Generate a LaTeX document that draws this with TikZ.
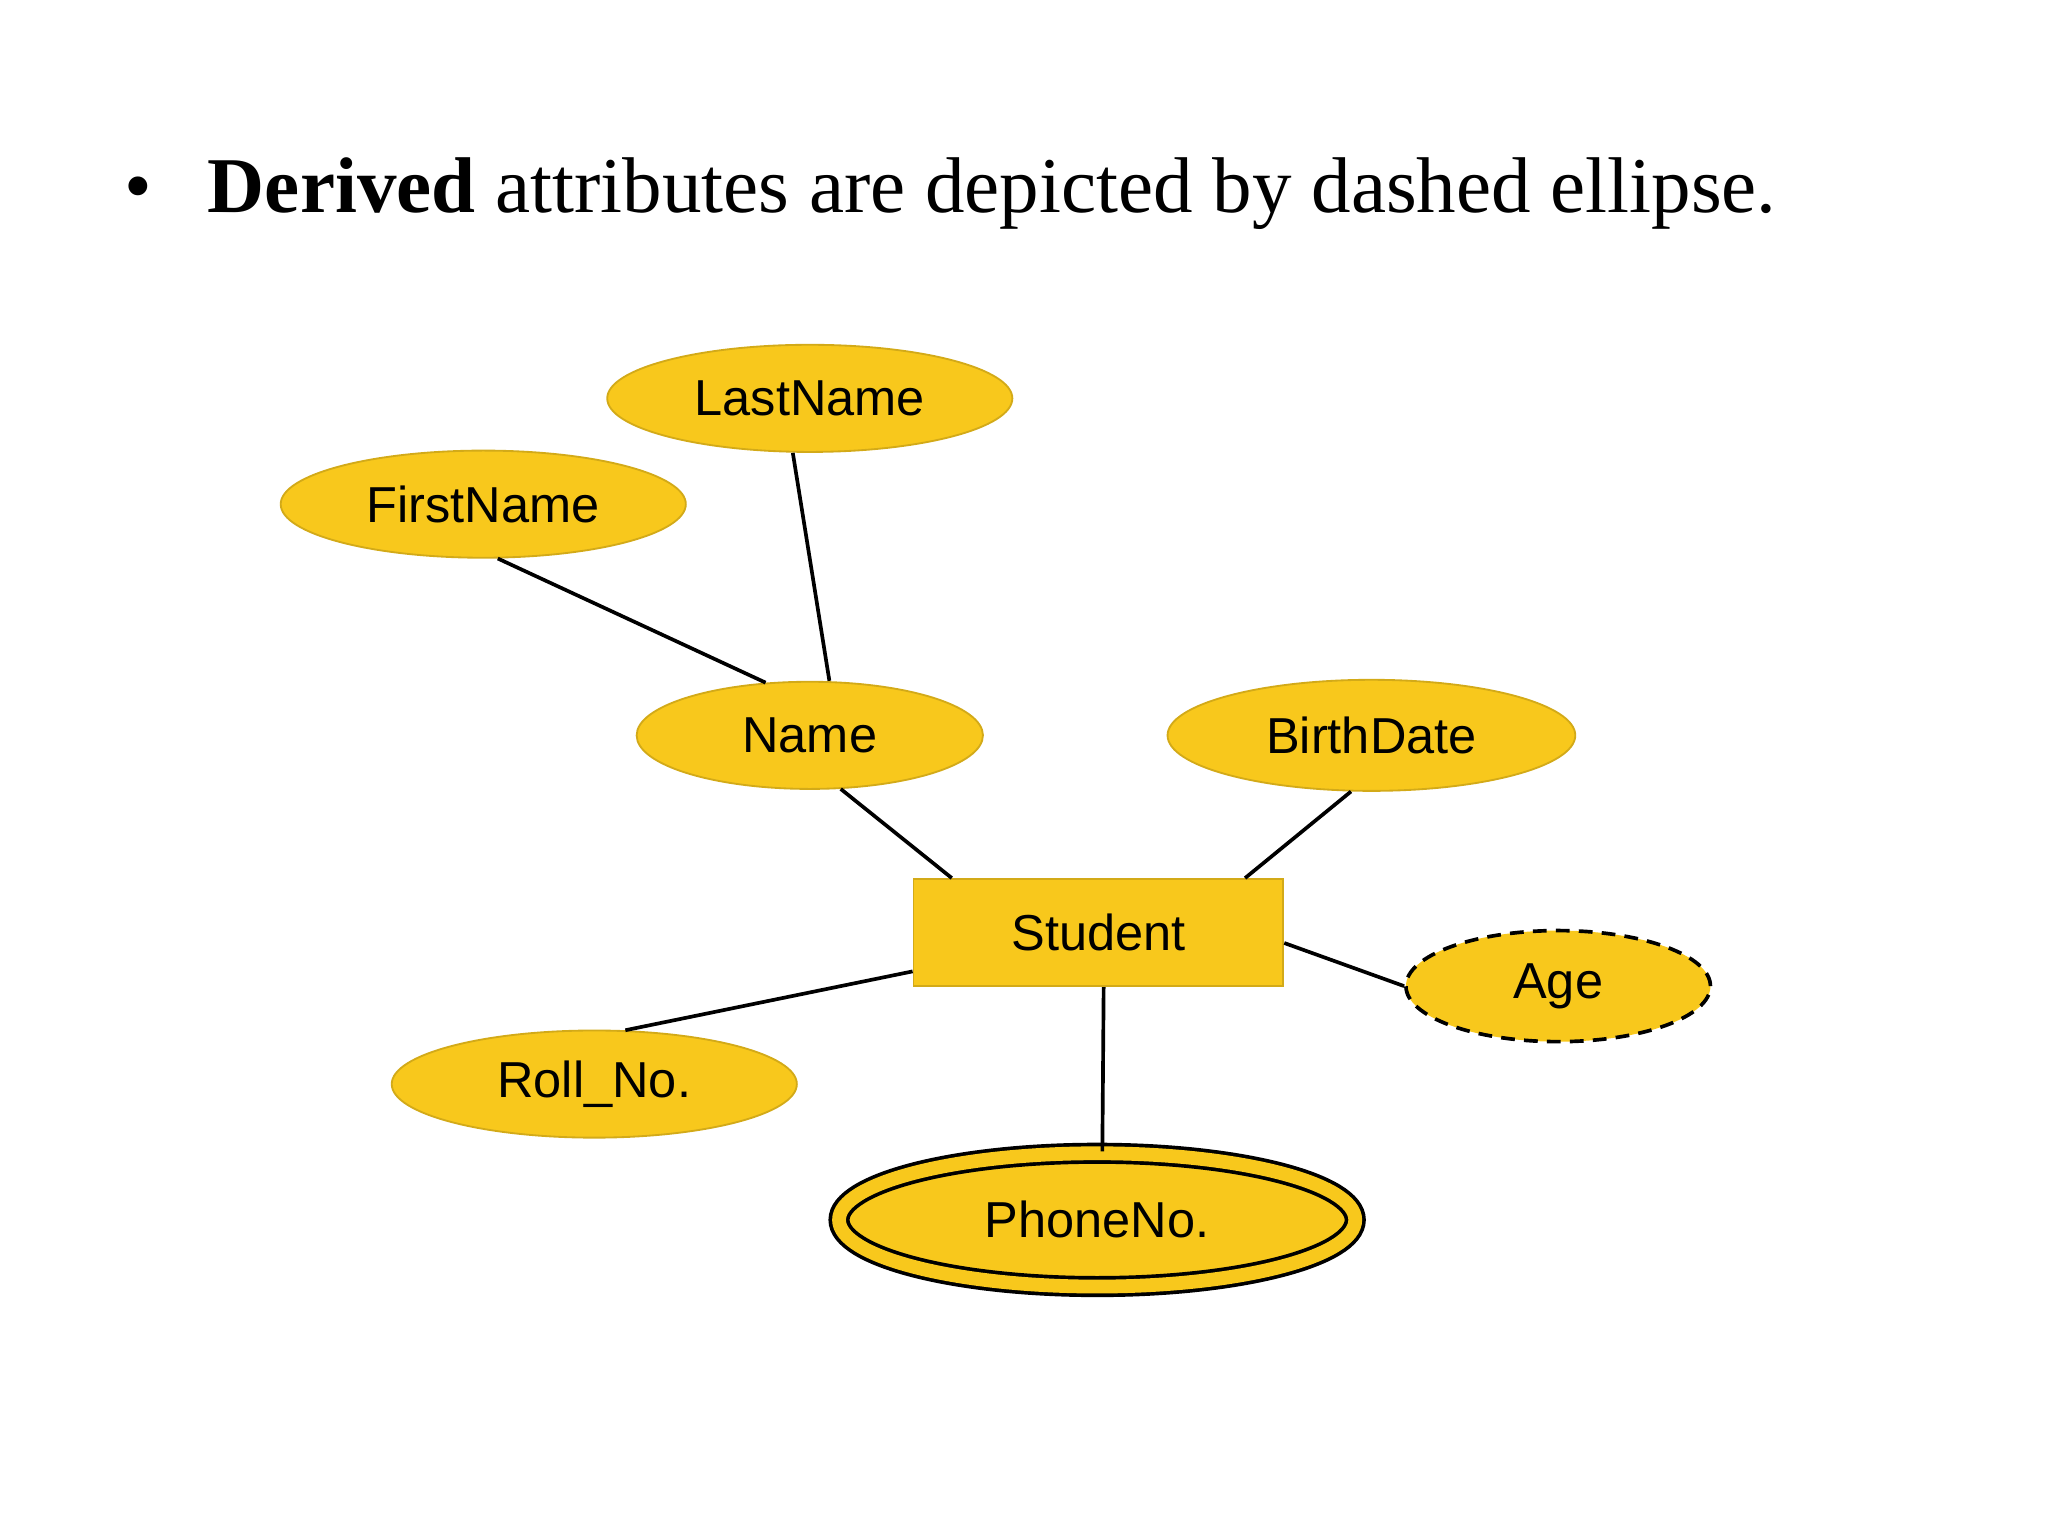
\documentclass[tikz,border=0pt]{standalone}
\usepackage{fontspec}
\setmainfont{Liberation Serif}
\newfontfamily\erfont{Liberation Sans}
\usetikzlibrary{positioning, shapes.geometric, calc}
\definecolor{attrfill}{HTML}{F8C81C}

\begin{document}
\begin{tikzpicture}[
		x=0.01cm, y=-0.01cm,
		% Styles
		attr/.style={ellipse, draw=attrfill!85!black, fill=attrfill, inner sep=0pt, font=\erfont\fontsize{11}{12}\selectfont},
		derived/.style={attr, draw=black, thick, dash pattern=on 3pt off 2pt},
		multi/.style={attr, draw=black, double=attrfill, double distance=3pt, thick},
		entity/.style={rectangle, fill=attrfill, draw=attrfill!85!black, minimum width=2.83cm, minimum height=0.82cm, font=\erfont\fontsize{11}{12}\selectfont},
		link/.style={thick, black}
	]
	\useasboundingbox (0,0) rectangle (1568,1176);

	% --- Heading ---
	\node[anchor=west, inner sep=0pt, font=\fontsize{17.2}{20}\selectfont] (head) at (95,148) {\textbullet\hspace{0.7em}\textbf{Derived} attributes are depicted by dashed ellipse.};

	% --- Entity and attributes ---
	\node[entity] (student) at (841,714) {Student};
	\node[attr, minimum width=3.1cm, minimum height=0.82cm] (lastname) at (620,305) {LastName};
	\node[attr, minimum width=3.1cm, minimum height=0.82cm] (firstname) at (370,386) {FirstName};
	\node[attr, minimum width=2.65cm, minimum height=0.82cm] (name) at (620,563) {Name};
	\node[attr, minimum width=3.12cm, minimum height=0.85cm] (birthdate) at (1050,563) {BirthDate};
	\node[derived, minimum width=2.33cm, minimum height=0.85cm] (age) at (1193,755) {Age};
	\node[attr, minimum width=3.1cm, minimum height=0.82cm] (rollno) at (455,830) {Roll\_No.};
	\node[multi, minimum width=3.95cm, minimum height=1.02cm] (phoneno) at (840,934) {PhoneNo.};

	% --- Connectors ---
	\draw[link] (firstname.-75) -- (name.130);
	\draw[link] ($(lastname.south)+(-13,0)$) -- ($(name.north)+(15,0)$);
	\draw[link] (name.-60) -- ($(student.north west)+(30,0)$);
	\draw[link] (birthdate.-110) -- ($(student.north east)+(-30,0)$);
	\draw[link] ($(student.east)+(0,8)$) -- (age.west);
	\draw[link] ($(student.south west)+(0,-12)$) -- (rollno.60);
	\draw[link] ($(student.south)+(4,0)$) -- ($(phoneno.north)+(4,0)$);

\end{tikzpicture}
\end{document}
